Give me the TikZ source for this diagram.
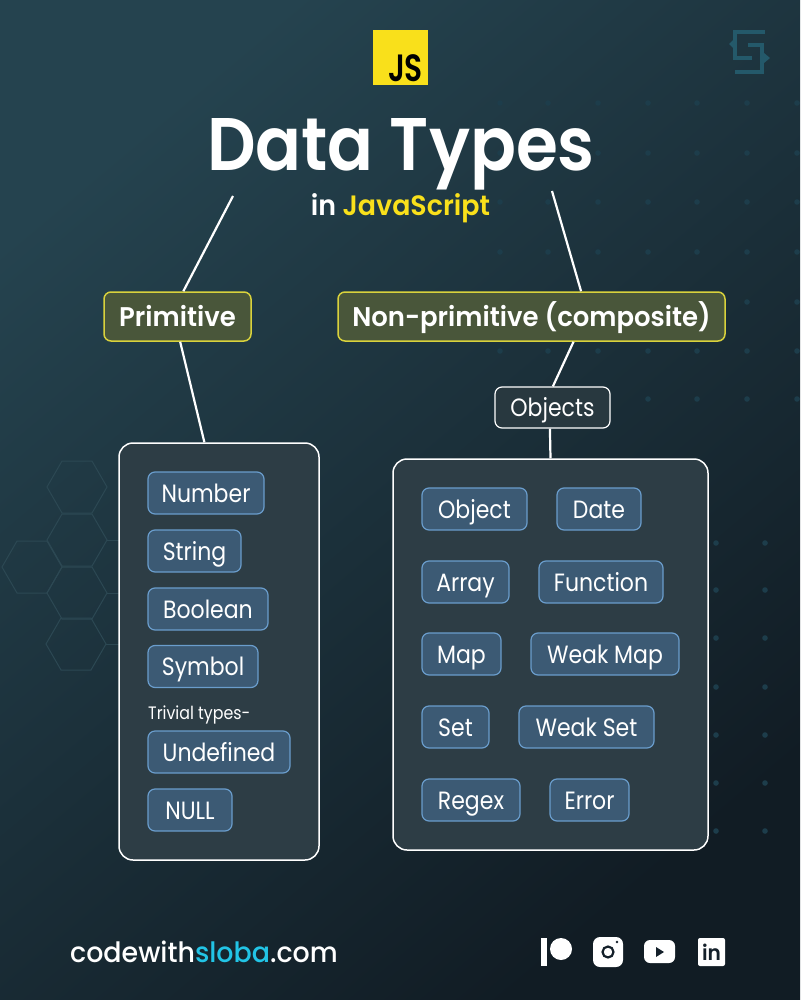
\documentclass[tikz,border=0pt]{standalone}
\usepackage{fontspec}
\setmainfont[FakeStretch=0.88]{Poppins}
\newfontfamily\headfont[FakeStretch=0.96]{Poppins SemiBold}
\newfontfamily\titlefont[FakeStretch=0.91]{Poppins SemiBold}
\newfontfamily\jsfont[FakeStretch=0.78]{Poppins SemiBold}
\newfontfamily\sitefont[FakeStretch=0.96]{Poppins Medium}
\usetikzlibrary{shapes.geometric, arrows.meta}
\definecolor{bgtop}{HTML}{25434F}
\definecolor{bgmiddle}{HTML}{1A2D37}
\definecolor{bgbottom}{HTML}{111C24}
\definecolor{jsyellow}{HTML}{F9E01B}
\definecolor{oliveback}{HTML}{49563A}
\definecolor{oliveline}{HTML}{D9D23C}
\definecolor{chipback}{HTML}{3C5A74}
\definecolor{chipline}{HTML}{6A9DCC}
\definecolor{panelback}{HTML}{2D3D45}
\definecolor{objectback}{HTML}{28383F}
\definecolor{logoteal}{HTML}{24596A}
\definecolor{dotcolor}{HTML}{1D3D4B}
\definecolor{hexcolor}{HTML}{2C4853}
\definecolor{slobablue}{HTML}{22C4E6}
\definecolor{icondark}{HTML}{14202A}
\tikzset{
    headbox/.style={draw=oliveline, fill=oliveback, line width=1.5pt, rounded corners=7pt,
        minimum height=49pt, inner sep=0pt, text height=24pt, text depth=4.8pt, text=white,
        font=\headfont\fontsize{27}{30}\selectfont},
    chip/.style={draw=chipline, fill=chipback, line width=1.2pt, rounded corners=7pt,
        minimum height=42pt, inner sep=0pt, text height=24pt, text depth=5.6pt, text=white,
        font=\fontsize{25}{28}\selectfont},
    panel/.style={draw=white, fill=panelback, line width=1.5pt, rounded corners=14pt, inner sep=0pt},
    link/.style={white, line width=2.2pt},
    hexa/.style={hexcolor, line width=1pt},
}

\begin{document}
\begin{tikzpicture}[x=1pt,y=-1pt]
    % Fundo
    \shade[top color=bgtop, middle color=bgmiddle, bottom color=bgbottom, shading angle=40] (0,0) rectangle (800,1000);
    \useasboundingbox (0,0) rectangle (800,1000);

    % Pontos
    \foreach \px in {500,548,598,648,697,747,797}
        \foreach \py in {103,153,202,252,302,351,399}
            \fill[dotcolor] (\px,\py) circle (2.8);
    \foreach \px in {716,765}
        \foreach \py in {543,590,638,687,735,783,831}
            \fill[dotcolor] (\px,\py) circle (2.8);

    % Hexagonos
    \foreach \hx/\hy in {77/487,77/540,32/567,77/593,76/644}
        \draw[hexa] (\hx-30,\hy) -- (\hx-15,\hy-26) -- (\hx+15,\hy-26) -- (\hx+30,\hy)
            -- (\hx+15,\hy+26) -- (\hx-15,\hy+26) -- cycle;
    \draw[hexa] (107,540) -- (119,540);
    \draw[hexa] (107,593) -- (119,593);
    \draw[hexa] (106,644) -- (119,644);

    % Logo
    \draw[logoteal, line width=4.5pt] (765,32) -- (735,32) -- (735,58) -- (752,58);
    \draw[logoteal, line width=4.5pt] (748,45) -- (762,45) -- (762,72) -- (735,72);
    \fill[logoteal] (729,44) -- (734,39) -- (734,49) -- cycle;
    \fill[logoteal] (770,58) -- (764,53) -- (764,63) -- cycle;

    % Titulo
    \node[fill=jsyellow, minimum width=55pt, minimum height=55pt, inner sep=0pt] (jslogo) at (400.5,57.5) {};
    \node[font=\jsfont\fontsize{38}{40}\selectfont, text=black, anchor=base, inner sep=0pt] (jstext) at (405.5,82) {JS};
    \node[text=white, font=\titlefont\fontsize{74.5}{80}\selectfont, anchor=base, inner sep=0pt] (title) at (401,171) {Data Types};
    \node[text=white, font=\headfont\fontsize{28}{30}\selectfont, anchor=base, inner sep=0pt] (subtitle) at (400.5,215) {in \textcolor{jsyellow}{JavaScript}};
    \coordinate (titleleft) at (233,196);
    \coordinate (titleright) at (552,191);

    % Caixas principais
    \node[headbox, minimum width=147pt] (primitive) at (177.5,316.5) {Primitive};
    \node[headbox, minimum width=387pt] (composite) at (531.5,316.5) {Non-primitive (composite)};
    \node[chip, draw=white, fill=objectback, minimum width=115pt, minimum height=41pt] (objects) at (552.5,407.5) {Objects};

    % Paineis
    \node[panel, minimum width=200pt, minimum height=417pt] (leftpanel) at (219,651.5) {};
    \node[panel, minimum width=315pt, minimum height=391pt] (rightpanel) at (550.5,654.5) {};

    % Ligacoes
    \draw[link] (titleleft) -- (primitive.77);
    \draw[link] (titleright) -- (composite.27);
    \draw[link] (primitive.276) -- (leftpanel.94.9);
    \draw[link] (composite.329.4) -- (objects.89);
    \draw[link] (objects.263) -- (rightpanel.90);

    % Tipos primitivos
    \node[chip, minimum width=116pt] (number) at (206,493) {Number};
    \node[chip, minimum width=93pt] (string) at (194.5,551) {String};
    \node[chip, minimum width=120pt] (boolean) at (208,609) {Boolean};
    \node[chip, minimum width=110pt] (symbol) at (203,666.5) {Symbol};
    \node[text=white, font=\fontsize{18}{20}\selectfont, anchor=base west, inner sep=0pt] (trivial) at (148,719) {Trivial types-};
    \node[chip, minimum width=142pt] (undefined) at (219,752) {Undefined};
    \node[chip, minimum width=84pt] (null) at (190,810) {NULL};

    % Tipos compostos
    \node[chip, minimum width=105pt] (object) at (474.5,509) {Object};
    \node[chip, minimum width=84pt] (date) at (599,509) {Date};
    \node[chip, minimum width=87pt] (array) at (465.5,582) {Array};
    \node[chip, minimum width=124pt] (function) at (601,582) {Function};
    \node[chip, minimum width=79pt] (map) at (461.5,654) {Map};
    \node[chip, minimum width=148pt] (weakmap) at (605,654) {Weak Map};
    \node[chip, minimum width=67pt] (set) at (455.5,727) {Set};
    \node[chip, minimum width=135pt] (weakset) at (586.5,727) {Weak Set};
    \node[chip, minimum width=98pt] (regex) at (471,800) {Regex};
    \node[chip, minimum width=79pt] (error) at (589.5,800) {Error};

    % Rodape
    \node[text=white, font=\sitefont\fontsize{28}{30}\selectfont, anchor=base west, inner sep=0pt] (site) at (70,962) {codewith\textcolor{slobablue}{sloba}.com};

    % Icones
    \fill[white] (541,938) rectangle (547,966);
    \fill[white] (561,949) circle (11);
    \fill[white, rounded corners=7pt] (593,937) rectangle (623,967);
    \draw[icondark, line width=2.2pt] (608,952) circle (5.5);
    \fill[icondark] (617,942) circle (1.3);
    \fill[white, rounded corners=6pt] (644,940) rectangle (675,963);
    \fill[icondark] (656,947) -- (656,957) -- (664,952) -- cycle;
    \fill[white, rounded corners=2pt] (698,938) rectangle (725,966);
    \node[text=icondark, font=\headfont\fontsize{21}{24}\selectfont] (linkedin) at (711.5,952) {in};
\end{tikzpicture}
\end{document}
